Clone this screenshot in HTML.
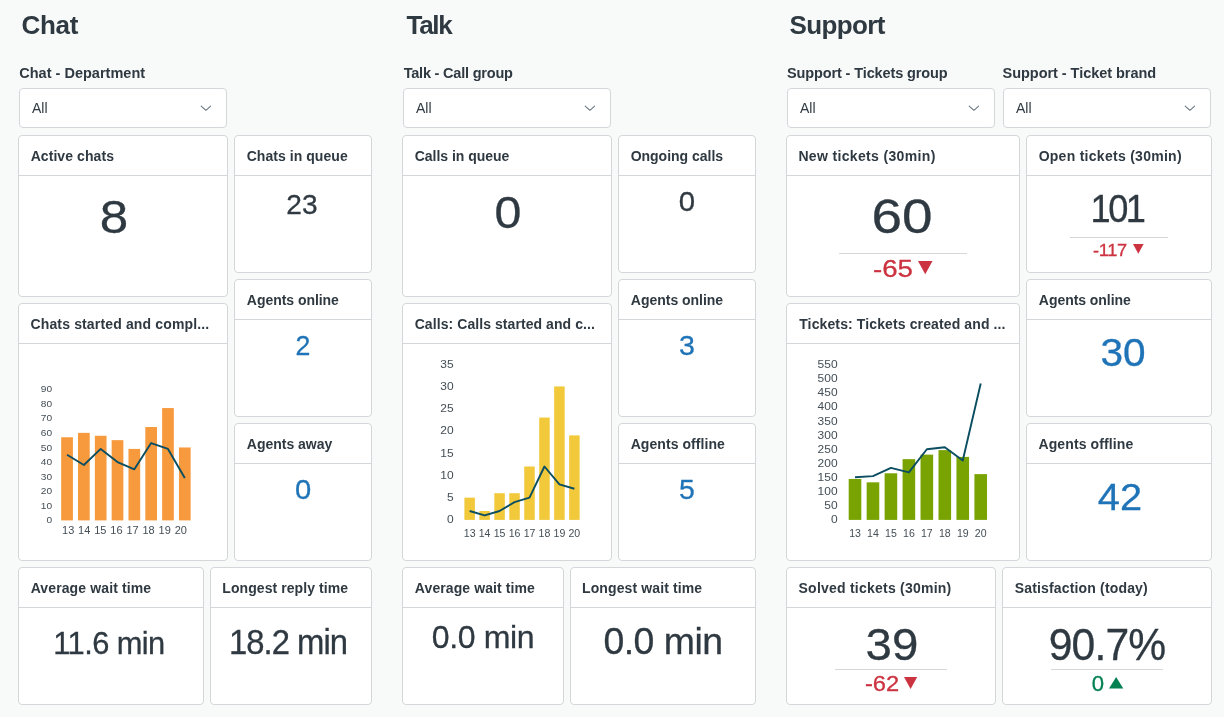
<!DOCTYPE html>
<html><head><meta charset="utf-8"><title>Dashboard</title><style>
*{box-sizing:border-box;margin:0;padding:0}
html,body{width:1224px;height:717px;overflow:hidden;background:#f8f9f9;will-change:transform;font-family:"Liberation Sans",sans-serif;color:#2f3941}
.card{position:absolute;background:#fff;border:1px solid #d3d7da;border-radius:4px}
.hd{height:40px;border-bottom:1px solid #d3d7da;padding-left:12px;line-height:40px;font-size:14px;font-weight:bold;white-space:nowrap;overflow:hidden}
.num{position:absolute;width:300px;height:80px;line-height:80px;text-align:center;white-space:nowrap;-webkit-text-stroke:0.3px currentColor}
.hl{position:absolute;height:1px;background:#d3d7da}
.sel{position:absolute;background:#fff;border:1px solid #d3d7da;border-radius:4px;font-size:14px;line-height:38px;padding-left:12px}
.lbl{position:absolute;font-size:14.5px;font-weight:bold;white-space:nowrap;line-height:18px}
.ttl{position:absolute;font-size:26px;font-weight:bold;white-space:nowrap;line-height:32px}
.ch{position:absolute;overflow:visible}
svg text{font-family:"Liberation Sans",sans-serif}
</style></head><body>
<div class="ttl" id="ttl_Chat" style="left:21.42px;top:9px;letter-spacing:-0.229px">Chat</div>
<div class="lbl" id="lbl_Chat - Department" style="left:19.23px;top:64px;letter-spacing:0.011px">Chat - Department</div>
<div class="sel" style="left:19px;top:88px;width:208px;height:40px"><span>All</span><svg width="14" height="8" viewBox="0 0 14 8" style="position:absolute;right:13px;top:14.5px"><path d="M2.2 2.1 L6.9 6.3 L11.6 2.1" fill="none" stroke="#68737d" stroke-width="1.05" stroke-linecap="round" stroke-linejoin="round"/></svg></div>
<div class="card" style="left:18px;top:135px;width:210px;height:162px"><div class="hd" style="letter-spacing:0.074px;padding-left:11.63px">Active chats</div></div>
<div class="num" id="n8" style="left:-35.97px;top:177.05px;font-size:46.97px;color:#2f3941;letter-spacing:0.00px;transform:scaleX(1.0879)">8</div>
<div class="card" style="left:234px;top:135px;width:138px;height:138px"><div class="hd" style="letter-spacing:0.049px;padding-left:11.70px">Chats in queue</div></div>
<div class="num" id="n23" style="left:152.07px;top:165.45px;font-size:27.86px;color:#2f3941;letter-spacing:0.00px;transform:scaleX(1.0082)">23</div>
<div class="card" style="left:234px;top:279px;width:138px;height:138px"><div class="hd" style="letter-spacing:-0.041px;padding-left:11.85px">Agents online</div></div>
<div class="num" id="c2" style="left:152.63px;top:306.00px;font-size:27.86px;color:#1f73b7;letter-spacing:0.00px;transform:scaleX(0.9587)">2</div>
<div class="card" style="left:234px;top:423px;width:138px;height:138px"><div class="hd" style="letter-spacing:-0.027px;padding-left:11.86px">Agents away</div></div>
<div class="num" id="c0" style="left:152.91px;top:450.10px;font-size:27.87px;color:#1f73b7;letter-spacing:0.00px;transform:scaleX(1.0466)">0</div>
<div class="card" style="left:18px;top:303px;width:210px;height:258px"><div class="hd" style="letter-spacing:0.148px;padding-left:11.46px">Chats started and compl...</div></div>
<svg class="ch" style="left:19px;top:344px" width="208" height="215" viewBox="19 344 208 215"><text transform="translate(52.1 523.49) scale(1.07 1)" text-anchor="end" font-size="9.5" fill="#434e56">0</text><text transform="translate(52.1 508.90) scale(1.07 1)" text-anchor="end" font-size="9.5" fill="#434e56">10</text><text transform="translate(52.1 494.31) scale(1.07 1)" text-anchor="end" font-size="9.5" fill="#434e56">20</text><text transform="translate(52.1 479.72) scale(1.07 1)" text-anchor="end" font-size="9.5" fill="#434e56">30</text><text transform="translate(52.1 465.13) scale(1.07 1)" text-anchor="end" font-size="9.5" fill="#434e56">40</text><text transform="translate(52.1 450.54) scale(1.07 1)" text-anchor="end" font-size="9.5" fill="#434e56">50</text><text transform="translate(52.1 435.95) scale(1.07 1)" text-anchor="end" font-size="9.5" fill="#434e56">60</text><text transform="translate(52.1 421.36) scale(1.07 1)" text-anchor="end" font-size="9.5" fill="#434e56">70</text><text transform="translate(52.1 406.77) scale(1.07 1)" text-anchor="end" font-size="9.5" fill="#434e56">80</text><text transform="translate(52.1 392.18) scale(1.07 1)" text-anchor="end" font-size="9.5" fill="#434e56">90</text><rect x="61.20" y="437.24" width="11.7" height="83.16" fill="#f79a3e"/><rect x="78.02" y="432.86" width="11.7" height="87.54" fill="#f79a3e"/><rect x="94.84" y="435.78" width="11.7" height="84.62" fill="#f79a3e"/><rect x="111.66" y="440.15" width="11.7" height="80.25" fill="#f79a3e"/><rect x="128.48" y="448.91" width="11.7" height="71.49" fill="#f79a3e"/><rect x="145.30" y="427.02" width="11.7" height="93.38" fill="#f79a3e"/><rect x="162.12" y="408.06" width="11.7" height="112.34" fill="#f79a3e"/><rect x="178.94" y="447.45" width="11.7" height="72.95" fill="#f79a3e"/><polyline points="67.05,454.75 83.87,464.96 100.69,448.91 117.51,462.04 134.33,469.33 151.15,443.07 167.97,448.91 184.79,478.09" fill="none" stroke="#0b4e61" stroke-width="1.9" stroke-linejoin="round"/><text transform="translate(68.15 533.86) scale(1.0 1)" text-anchor="middle" font-size="11" fill="#434e56">13</text><text transform="translate(84.24 533.86) scale(1.0 1)" text-anchor="middle" font-size="11" fill="#434e56">14</text><text transform="translate(100.33 533.86) scale(1.0 1)" text-anchor="middle" font-size="11" fill="#434e56">15</text><text transform="translate(116.42 533.86) scale(1.0 1)" text-anchor="middle" font-size="11" fill="#434e56">16</text><text transform="translate(132.51 533.86) scale(1.0 1)" text-anchor="middle" font-size="11" fill="#434e56">17</text><text transform="translate(148.60 533.86) scale(1.0 1)" text-anchor="middle" font-size="11" fill="#434e56">18</text><text transform="translate(164.69 533.86) scale(1.0 1)" text-anchor="middle" font-size="11" fill="#434e56">19</text><text transform="translate(180.78 533.86) scale(1.0 1)" text-anchor="middle" font-size="11" fill="#434e56">20</text></svg>
<div class="card" style="left:18px;top:567px;width:186px;height:138px"><div class="hd" style="letter-spacing:0.120px;padding-left:11.63px">Average wait time</div></div>
<div class="num" id="w116" style="left:-40.64px;top:603.05px;font-size:31.69px;color:#2f3941;letter-spacing:-0.60px;transform:scaleX(0.9729)">11.6 min</div>
<div class="card" style="left:210px;top:567px;width:162px;height:138px"><div class="hd" style="letter-spacing:0.074px;padding-left:11.30px">Longest reply time</div></div>
<div class="num" id="w182" style="left:137.54px;top:602.15px;font-size:34.58px;color:#2f3941;letter-spacing:-1.00px;transform:scaleX(0.9487)">18.2 min</div>
<div class="ttl" id="ttl_Talk" style="left:406.59px;top:9px;letter-spacing:-1.311px">Talk</div>
<div class="lbl" id="lbl_Talk - Call group" style="left:403.64px;top:64px;letter-spacing:-0.203px">Talk - Call group</div>
<div class="sel" style="left:403px;top:88px;width:208px;height:40px"><span>All</span><svg width="14" height="8" viewBox="0 0 14 8" style="position:absolute;right:13px;top:14.5px"><path d="M2.2 2.1 L6.9 6.3 L11.6 2.1" fill="none" stroke="#68737d" stroke-width="1.05" stroke-linecap="round" stroke-linejoin="round"/></svg></div>
<div class="card" style="left:402px;top:135px;width:210px;height:162px"><div class="hd" style="letter-spacing:-0.027px;padding-left:11.70px">Calls in queue</div></div>
<div class="num" id="t0" style="left:357.52px;top:173.00px;font-size:44.57px;color:#2f3941;letter-spacing:0.00px;transform:scaleX(1.0848)">0</div>
<div class="card" style="left:618px;top:135px;width:138px;height:138px"><div class="hd" style="letter-spacing:-0.016px;padding-left:11.68px">Ongoing calls</div></div>
<div class="num" id="t0s" style="left:536.69px;top:162.25px;font-size:27.87px;color:#2f3941;letter-spacing:0.00px;transform:scaleX(1.0524)">0</div>
<div class="card" style="left:618px;top:279px;width:138px;height:138px"><div class="hd" style="letter-spacing:-0.021px;padding-left:11.85px">Agents online</div></div>
<div class="num" id="t3" style="left:536.92px;top:306.10px;font-size:27.87px;color:#1f73b7;letter-spacing:0.00px;transform:scaleX(1.0247)">3</div>
<div class="card" style="left:618px;top:423px;width:138px;height:138px"><div class="hd" style="letter-spacing:0.070px;padding-left:11.63px">Agents offline</div></div>
<div class="num" id="t5" style="left:537.34px;top:450.20px;font-size:27.86px;color:#1f73b7;letter-spacing:0.00px;transform:scaleX(1.0198)">5</div>
<div class="card" style="left:402px;top:303px;width:210px;height:258px"><div class="hd" style="letter-spacing:0.071px;padding-left:11.70px">Calls: Calls started and c...</div></div>
<svg class="ch" style="left:403px;top:344px" width="208" height="215" viewBox="403 344 208 215"><text transform="translate(453.6 523.48) scale(1.09 1)" text-anchor="end" font-size="11" fill="#434e56">0</text><text transform="translate(453.6 501.23) scale(1.09 1)" text-anchor="end" font-size="11" fill="#434e56">5</text><text transform="translate(453.6 478.98) scale(1.09 1)" text-anchor="end" font-size="11" fill="#434e56">10</text><text transform="translate(453.6 456.74) scale(1.09 1)" text-anchor="end" font-size="11" fill="#434e56">15</text><text transform="translate(453.6 434.49) scale(1.09 1)" text-anchor="end" font-size="11" fill="#434e56">20</text><text transform="translate(453.6 412.25) scale(1.09 1)" text-anchor="end" font-size="11" fill="#434e56">25</text><text transform="translate(453.6 390.00) scale(1.09 1)" text-anchor="end" font-size="11" fill="#434e56">30</text><text transform="translate(453.6 367.76) scale(1.09 1)" text-anchor="end" font-size="11" fill="#434e56">35</text><rect x="464.40" y="497.65" width="10.5" height="22.24" fill="#f1c93b"/><rect x="479.36" y="511.00" width="10.5" height="8.90" fill="#f1c93b"/><rect x="494.32" y="493.21" width="10.5" height="26.69" fill="#f1c93b"/><rect x="509.28" y="493.21" width="10.5" height="26.69" fill="#f1c93b"/><rect x="524.24" y="466.51" width="10.5" height="53.39" fill="#f1c93b"/><rect x="539.20" y="417.57" width="10.5" height="102.33" fill="#f1c93b"/><rect x="554.16" y="386.43" width="10.5" height="133.47" fill="#f1c93b"/><rect x="569.12" y="435.37" width="10.5" height="84.53" fill="#f1c93b"/><polyline points="469.65,511.00 484.61,515.45 499.57,511.00 514.53,502.10 529.49,497.65 544.45,466.51 559.41,484.31 574.37,488.76" fill="none" stroke="#0b4e61" stroke-width="1.9" stroke-linejoin="round"/><text transform="translate(469.65 537.16) scale(0.96 1)" text-anchor="middle" font-size="11" fill="#434e56">13</text><text transform="translate(484.61 537.16) scale(0.96 1)" text-anchor="middle" font-size="11" fill="#434e56">14</text><text transform="translate(499.57 537.16) scale(0.96 1)" text-anchor="middle" font-size="11" fill="#434e56">15</text><text transform="translate(514.53 537.16) scale(0.96 1)" text-anchor="middle" font-size="11" fill="#434e56">16</text><text transform="translate(529.49 537.16) scale(0.96 1)" text-anchor="middle" font-size="11" fill="#434e56">17</text><text transform="translate(544.45 537.16) scale(0.96 1)" text-anchor="middle" font-size="11" fill="#434e56">18</text><text transform="translate(559.41 537.16) scale(0.96 1)" text-anchor="middle" font-size="11" fill="#434e56">19</text><text transform="translate(574.37 537.16) scale(0.96 1)" text-anchor="middle" font-size="11" fill="#434e56">20</text></svg>
<div class="card" style="left:402px;top:567px;width:162px;height:138px"><div class="hd" style="letter-spacing:0.090px;padding-left:11.85px">Average wait time</div></div>
<div class="num" id="tw1" style="left:332.76px;top:597.30px;font-size:31.99px;color:#2f3941;letter-spacing:-0.40px;transform:scaleX(1.0024)">0.0 min</div>
<div class="card" style="left:570px;top:567px;width:186px;height:138px"><div class="hd" style="letter-spacing:0.117px;padding-left:11.03px">Longest wait time</div></div>
<div class="num" id="tw2" style="left:512.78px;top:601.20px;font-size:37.49px;color:#2f3941;letter-spacing:-0.50px;transform:scaleX(0.9979)">0.0 min</div>
<div class="ttl" id="ttl_Support" style="left:789.59px;top:9px;letter-spacing:-0.619px">Support</div>
<div class="lbl" id="lbl_Support - Tickets group" style="left:786.93px;top:64px;letter-spacing:-0.114px">Support - Tickets group</div>
<div class="lbl" id="lbl_Support - Ticket brand" style="left:1002.60px;top:64px;letter-spacing:-0.043px">Support - Ticket brand</div>
<div class="sel" style="left:787px;top:88px;width:208px;height:40px"><span>All</span><svg width="14" height="8" viewBox="0 0 14 8" style="position:absolute;right:13px;top:14.5px"><path d="M2.2 2.1 L6.9 6.3 L11.6 2.1" fill="none" stroke="#68737d" stroke-width="1.05" stroke-linecap="round" stroke-linejoin="round"/></svg></div>
<div class="sel" style="left:1003px;top:88px;width:208px;height:40px"><span>All</span><svg width="14" height="8" viewBox="0 0 14 8" style="position:absolute;right:13px;top:14.5px"><path d="M2.2 2.1 L6.9 6.3 L11.6 2.1" fill="none" stroke="#68737d" stroke-width="1.05" stroke-linecap="round" stroke-linejoin="round"/></svg></div>
<div class="card" style="left:786px;top:135px;width:234px;height:162px"><div class="hd" style="letter-spacing:0.346px;padding-left:11.38px">New tickets (30min)</div></div>
<div class="num" id="s60" style="left:752.03px;top:176.00px;font-size:48.98px;color:#2f3941;letter-spacing:0.00px;transform:scaleX(1.1215)">60</div>
<div class="hl aux" style="left:839px;top:253px;width:128px"></div>
<div class="num" id="s65" style="left:743.20px;top:229.00px;font-size:24.17px;color:#cc3340;letter-spacing:0.00px;transform:scaleX(1.1458)">-65</div>
<svg class="ch aux" style="left:918.3px;top:261.3px" width="14.50" height="13.20" viewBox="0 0 14.50 13.20"><polygon points="0,0 14.50,0 7.25,13.20" fill="#cc3340"/></svg>
<div class="card" style="left:1026px;top:135px;width:186px;height:138px"><div class="hd" style="letter-spacing:0.276px;padding-left:11.64px">Open tickets (30min)</div></div>
<div class="num" id="s101" style="left:966.61px;top:169.25px;font-size:39.17px;color:#2f3941;letter-spacing:-2.60px;transform:scaleX(0.9250)">101</div>
<div class="hl aux" style="left:1070px;top:237px;width:98px"></div>
<div class="num" id="s117" style="left:960.39px;top:210.20px;font-size:17.40px;color:#cc3340;letter-spacing:-0.30px;transform:scaleX(1.0471)">-117</div>
<svg class="ch aux" style="left:1133.4px;top:244.0px" width="10.60" height="9.80" viewBox="0 0 10.60 9.80"><polygon points="0,0 10.60,0 5.30,9.80" fill="#cc3340"/></svg>
<div class="card" style="left:1026px;top:279px;width:186px;height:138px"><div class="hd" style="letter-spacing:-0.050px;padding-left:11.86px">Agents online</div></div>
<div class="num" id="s30" style="left:972.51px;top:313.18px;font-size:38.97px;color:#1f73b7;letter-spacing:0.00px;transform:scaleX(1.0418)">30</div>
<div class="card" style="left:1026px;top:423px;width:186px;height:138px"><div class="hd" style="letter-spacing:0.115px;padding-left:11.48px">Agents offline</div></div>
<div class="num" id="s42" style="left:969.63px;top:457.08px;font-size:37.28px;color:#1f73b7;letter-spacing:0.00px;transform:scaleX(1.0675)">42</div>
<div class="card" style="left:786px;top:303px;width:234px;height:258px"><div class="hd" style="letter-spacing:0.120px;padding-left:12.21px">Tickets: Tickets created and ...</div></div>
<svg class="ch" style="left:787px;top:344px" width="232" height="215" viewBox="787 344 232 215"><text transform="translate(837.6 523.48) scale(1.09 1)" text-anchor="end" font-size="11" fill="#434e56">0</text><text transform="translate(837.6 509.35) scale(1.09 1)" text-anchor="end" font-size="11" fill="#434e56">50</text><text transform="translate(837.6 495.22) scale(1.09 1)" text-anchor="end" font-size="11" fill="#434e56">100</text><text transform="translate(837.6 481.10) scale(1.09 1)" text-anchor="end" font-size="11" fill="#434e56">150</text><text transform="translate(837.6 466.97) scale(1.09 1)" text-anchor="end" font-size="11" fill="#434e56">200</text><text transform="translate(837.6 452.85) scale(1.09 1)" text-anchor="end" font-size="11" fill="#434e56">250</text><text transform="translate(837.6 438.72) scale(1.09 1)" text-anchor="end" font-size="11" fill="#434e56">300</text><text transform="translate(837.6 424.60) scale(1.09 1)" text-anchor="end" font-size="11" fill="#434e56">350</text><text transform="translate(837.6 410.47) scale(1.09 1)" text-anchor="end" font-size="11" fill="#434e56">400</text><text transform="translate(837.6 396.35) scale(1.09 1)" text-anchor="end" font-size="11" fill="#434e56">450</text><text transform="translate(837.6 382.22) scale(1.09 1)" text-anchor="end" font-size="11" fill="#434e56">500</text><text transform="translate(837.6 368.10) scale(1.09 1)" text-anchor="end" font-size="11" fill="#434e56">550</text><rect x="848.70" y="478.94" width="12.6" height="40.96" fill="#78a300"/><rect x="866.66" y="482.33" width="12.6" height="37.57" fill="#78a300"/><rect x="884.62" y="473.29" width="12.6" height="46.61" fill="#78a300"/><rect x="902.58" y="459.16" width="12.6" height="60.74" fill="#78a300"/><rect x="920.54" y="454.64" width="12.6" height="65.26" fill="#78a300"/><rect x="938.50" y="450.12" width="12.6" height="69.78" fill="#78a300"/><rect x="956.46" y="456.90" width="12.6" height="63.00" fill="#78a300"/><rect x="974.42" y="474.13" width="12.6" height="45.76" fill="#78a300"/><polyline points="855.00,477.24 872.96,476.11 890.92,467.92 908.88,472.44 926.84,449.27 944.80,447.30 962.76,460.57 980.72,383.45" fill="none" stroke="#0b4e61" stroke-width="1.9" stroke-linejoin="round"/><text transform="translate(855.00 537.16) scale(0.96 1)" text-anchor="middle" font-size="11" fill="#434e56">13</text><text transform="translate(872.96 537.16) scale(0.96 1)" text-anchor="middle" font-size="11" fill="#434e56">14</text><text transform="translate(890.92 537.16) scale(0.96 1)" text-anchor="middle" font-size="11" fill="#434e56">15</text><text transform="translate(908.88 537.16) scale(0.96 1)" text-anchor="middle" font-size="11" fill="#434e56">16</text><text transform="translate(926.84 537.16) scale(0.96 1)" text-anchor="middle" font-size="11" fill="#434e56">17</text><text transform="translate(944.80 537.16) scale(0.96 1)" text-anchor="middle" font-size="11" fill="#434e56">18</text><text transform="translate(962.76 537.16) scale(0.96 1)" text-anchor="middle" font-size="11" fill="#434e56">19</text><text transform="translate(980.72 537.16) scale(0.96 1)" text-anchor="middle" font-size="11" fill="#434e56">20</text></svg>
<div class="card" style="left:786px;top:567px;width:210px;height:138px"><div class="hd" style="letter-spacing:0.230px;padding-left:11.56px">Solved tickets (30min)</div></div>
<div class="num" id="s39" style="left:741.69px;top:605.30px;font-size:44.57px;color:#2f3941;letter-spacing:0.00px;transform:scaleX(1.0642)">39</div>
<div class="hl aux" style="left:835px;top:669px;width:112px"></div>
<div class="num" id="s62" style="left:731.74px;top:644.40px;font-size:22.08px;color:#cc3340;letter-spacing:0.00px;transform:scaleX(1.0723)">-62</div>
<svg class="ch aux" style="left:903.8px;top:676.9px" width="13.20" height="11.90" viewBox="0 0 13.20 11.90"><polygon points="0,0 13.20,0 6.60,11.90" fill="#cc3340"/></svg>
<div class="card" style="left:1002px;top:567px;width:210px;height:138px"><div class="hd" style="letter-spacing:0.161px;padding-left:11.76px">Satisfaction (today)</div></div>
<div class="num" id="s907" style="left:956.59px;top:605.30px;font-size:44.47px;color:#2f3941;letter-spacing:-0.90px;transform:scaleX(0.9592)">90.7%</div>
<div class="hl aux" style="left:1051px;top:669px;width:112px"></div>
<div class="num" id="s0g" style="left:947.98px;top:644.40px;font-size:22.08px;color:#038153;letter-spacing:0.00px;transform:scaleX(1.0012)">0</div>
<svg class="ch aux" style="left:1108.8px;top:677.4px" width="14.30" height="11.40" viewBox="0 0 14.30 11.40"><polygon points="0,11.40 7.15,0 14.30,11.40" fill="#038153"/></svg>
</body></html>
